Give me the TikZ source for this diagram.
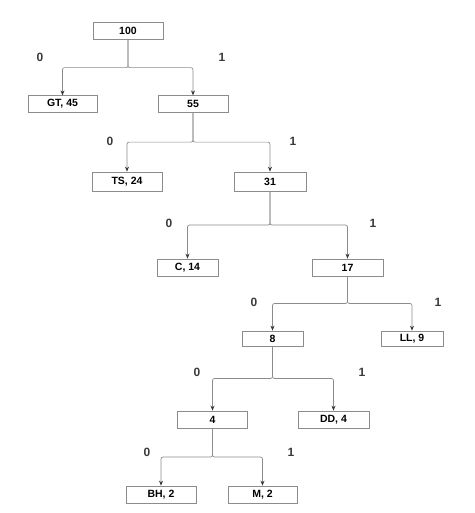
\documentclass[tikz,border=0pt]{standalone}
\usepackage{fontspec}
\setmainfont{Liberation Sans}
\usetikzlibrary{calc}
\usetikzlibrary{arrows.meta}

\definecolor{boxgray}{HTML}{8C8C8C}
\definecolor{bitgray}{HTML}{3A3A3A}

\tikzset{
  codebox/.style={draw=boxgray, line width=0.7pt, minimum height=17pt, inner sep=1pt,
    font=\fontsize{10.5}{11}\selectfont\bfseries},
  bit/.style={text=bitgray, font=\fontsize{12}{12}\selectfont\bfseries},
  branch/.style={draw=boxgray, line width=0.7pt, rounded corners=2pt,
    -{Stealth[length=5pt,width=4pt,color=bitgray]},
    to path={(\tikztostart.south) |- ($(\tikztostart.south)!.5!(\tikztotarget.north)$)
      -| (\tikztotarget.north)}}
}

\begin{document}
\begin{tikzpicture}[x=1pt,y=-1pt]
  \useasboundingbox (0,0) rectangle (474,513);
  % boxes
  \node (n100) [codebox,minimum width=70pt] at (128,31) {100};
  \node (gt)   [codebox,minimum width=69pt,minimum height=16.5pt] at (62.5,104) {GT, 45};
  \node (n55)  [codebox,minimum width=70pt,minimum height=16.5pt] at (193,104) {55};
  \node (ts)   [codebox,minimum width=70pt,minimum height=19pt] at (127,181.5) {TS, 24};
  \node (n31)  [codebox,minimum width=72pt,minimum height=19pt] at (270,181.5) {31};
  \node (c)    [codebox,minimum width=61pt] at (187.5,267.5) {C, 14};
  \node (n17)  [codebox,minimum width=71pt] at (347.5,267.5) {17};
  \node (n8)   [codebox,minimum width=61pt,minimum height=15pt] at (272.5,338.5) {8};
  \node (ll)   [codebox,minimum width=62pt,minimum height=15pt] at (412,338.5) {LL, 9};
  \node (n4)   [codebox,minimum width=70pt] at (212.5,419.5) {4};
  \node (dd)   [codebox,minimum width=71pt] at (333.5,419.5) {DD, 4};
  \node (bh)   [codebox,minimum width=70pt] at (161,494.5) {BH, 2};
  \node (m)    [codebox,minimum width=69pt] at (262.5,494.5) {M, 2};
  % branches
  \path
    (n100) edge[branch] (gt)
    (n100) edge[branch] (n55)
    (n55)  edge[branch] (ts)
    (n55)  edge[branch] (n31)
    (n31)  edge[branch] (c)
    (n31)  edge[branch] (n17)
    (n17)  edge[branch] (n8)
    (n17)  edge[branch] (ll)
    (n8)   edge[branch] (n4)
    (n8)   edge[branch] (dd)
    (n4)   edge[branch] (bh)
    (n4)   edge[branch] (m);
  % bits
  \node (b100l) [bit] at (40,57) {0};
  \node (b100r) [bit] at (222,57) {1};
  \node (b55l)  [bit] at (110,141) {0};
  \node (b55r)  [bit] at (293,141) {1};
  \node (b31l)  [bit] at (169,223) {0};
  \node (b31r)  [bit] at (373,223) {1};
  \node (b17l)  [bit] at (254,302) {0};
  \node (b17r)  [bit] at (438,302) {1};
  \node (b8l)   [bit] at (197,372) {0};
  \node (b8r)   [bit] at (362,372) {1};
  \node (b4l)   [bit] at (147,452) {0};
  \node (b4r)   [bit] at (291,452) {1};
\end{tikzpicture}
\end{document}
